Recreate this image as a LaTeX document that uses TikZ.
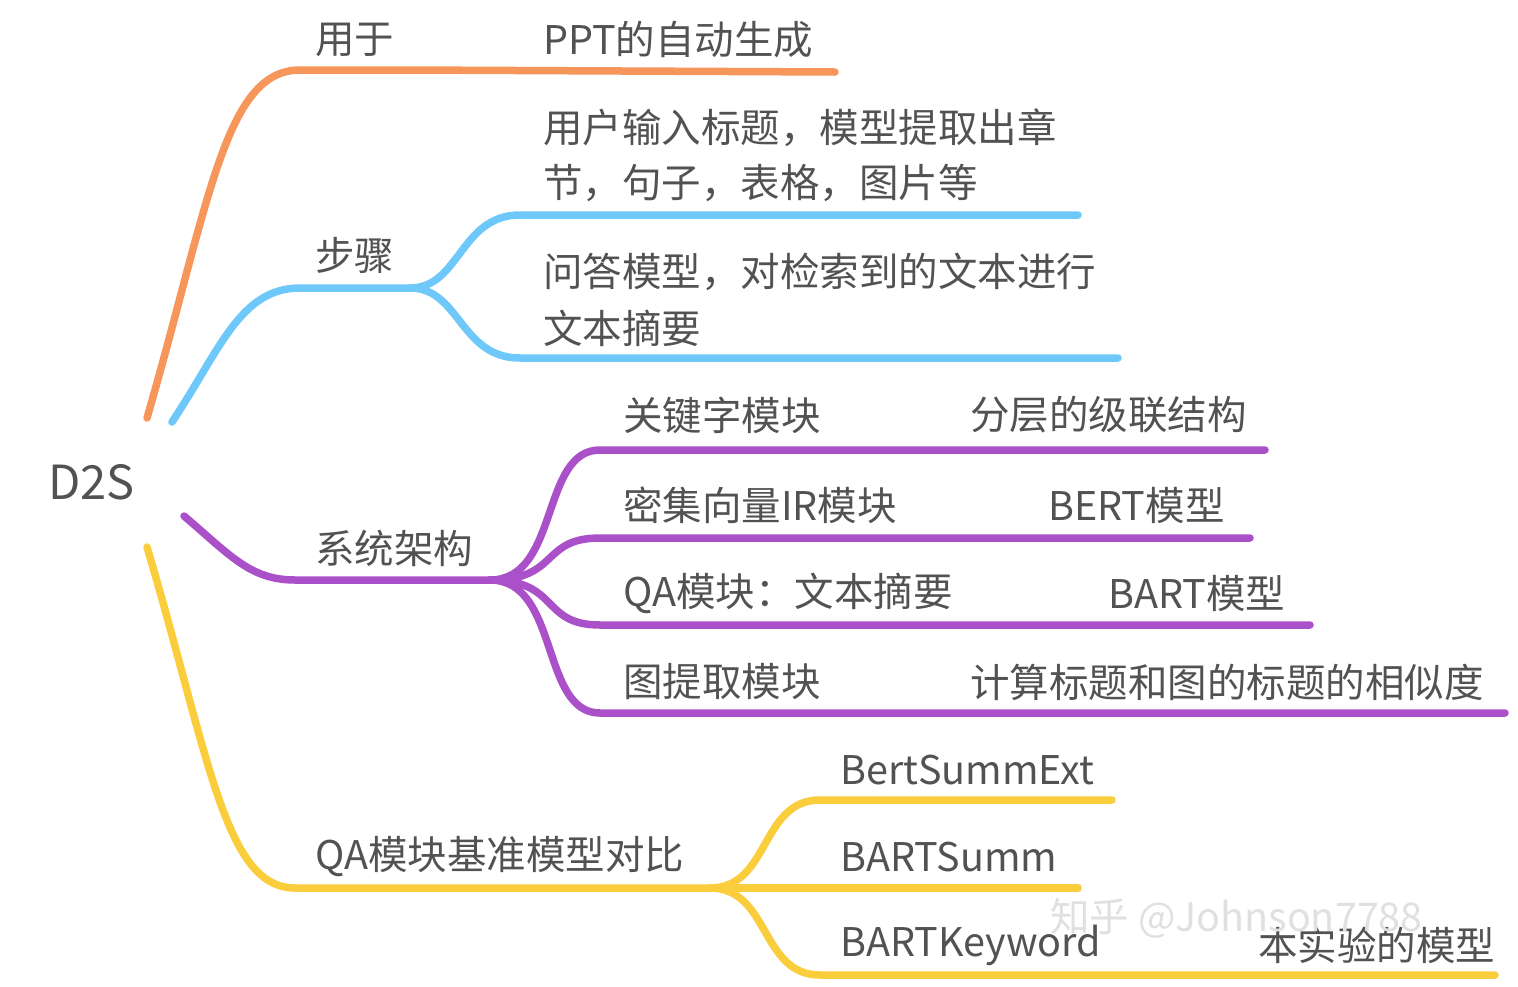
\documentclass[tikz,border=0pt]{standalone}
\usepackage{fontspec}
\setmainfont{Noto Sans CJK SC}
\begin{document}
\begin{tikzpicture}[x=1pt,y=-1pt,
  txt/.style={anchor=west,inner sep=0pt,text=black!68,font=\fontsize{39.5}{42}\selectfont},
  br/.style={line width=7.5pt,line cap=round}]
\definecolor{cor}{RGB}{247,150,90}
\definecolor{cbl}{RGB}{110,200,250}
\definecolor{cpu}{RGB}{170,80,200}
\definecolor{cye}{RGB}{250,205,60}
\useasboundingbox (0,0) rectangle (1518,986);
\node[txt,font=\fontsize{47}{50}\selectfont] (root) at (48,482) {D2S};
% orange
\coordinate (o0) at (147,418); \coordinate (o1) at (300,70); \coordinate (o2) at (410,70); \coordinate (o3) at (835,72);
\draw[br,cor] (o0) .. controls (210,200) and (225,70) .. (o1) -- (o2) -- (o3);
\node[txt] (a1) at (315,40) {用于};
\node[txt] (a2) at (543,40) {PPT的自动生成};
% blue
\coordinate (b0) at (172,422); \coordinate (b1) at (300,288); \coordinate (b2) at (410,288);
\coordinate (b3) at (520,215); \coordinate (b4) at (1078,215);
\coordinate (b5) at (520,358); \coordinate (b6) at (1118,358);
\draw[br,cbl] (b0) .. controls (220,350) and (240,288) .. (b1) -- (b2);
\draw[br,cbl] (b2) .. controls (460,288) and (460,215) .. (b3) -- (b4);
\draw[br,cbl] (b2) .. controls (460,288) and (460,358) .. (b5) -- (b6);
\node[txt] (s1) at (315,255) {步骤};
\node[txt] (s2) at (543,128) {用户输入标题，模型提取出章};
\node[txt] (s3) at (543,183) {节，句子，表格，图片等};
\node[txt] (s4) at (543,272) {问答模型，对检索到的文本进行};
\node[txt] (s5) at (543,328) {文本摘要};
% purple
\coordinate (p0) at (184,516); \coordinate (p1) at (295,580); \coordinate (p2) at (490,580);
\draw[br,cpu] (p0) .. controls (230,555) and (250,580) .. (p1) -- (p2);
\foreach \y/\m/\e in {450/838/1265, 538/915/1250, 625/975/1310, 713/838/1505}{
  \draw[br,cpu] (p2) .. controls (560,580) and (540,\y) .. (600,\y) -- (\m,\y) -- (\e,\y);
}
\node[txt] (c0) at (315,548) {系统架构};
\node[txt] (c1) at (623,415) {关键字模块};
\node[txt] (c2) at (970,415) {分层的级联结构};
\node[txt] (c3) at (623,505) {密集向量IR模块};
\node[txt] (c4) at (1048,505) {BERT模型};
\node[txt] (c5) at (623,593) {QA模块：文本摘要};
\node[txt] (c6) at (1108,593) {BART模型};
\node[txt] (c7) at (623,682) {图提取模块};
\node[txt] (c8) at (970,682) {计算标题和图的标题的相似度};
% yellow
\coordinate (y0) at (147,547); \coordinate (y1) at (295,888); \coordinate (y2) at (710,888);
\draw[br,cye] (y0) .. controls (210,760) and (225,888) .. (y1) -- (y2);
\foreach \y/\e in {800/1112, 888/1078, 975/1495}{
  \draw[br,cye] (y2) .. controls (770,888) and (760,\y) .. (820,\y) -- (\e,\y);
}
\node[txt] (q0) at (315,857) {QA模块基准模型对比};
\node[txt] (q1) at (840,770) {BertSummExt};
\node[txt] (q2) at (840,857) {BARTSumm};
\node[txt] (q3) at (840,945) {BARTKeyword};
\node[txt] (q4) at (1258,945) {本实验的模型};
\node[txt,text=black!12] (wm) at (1050,918) {知乎 @Johnson7788};
\end{tikzpicture}
\end{document}
